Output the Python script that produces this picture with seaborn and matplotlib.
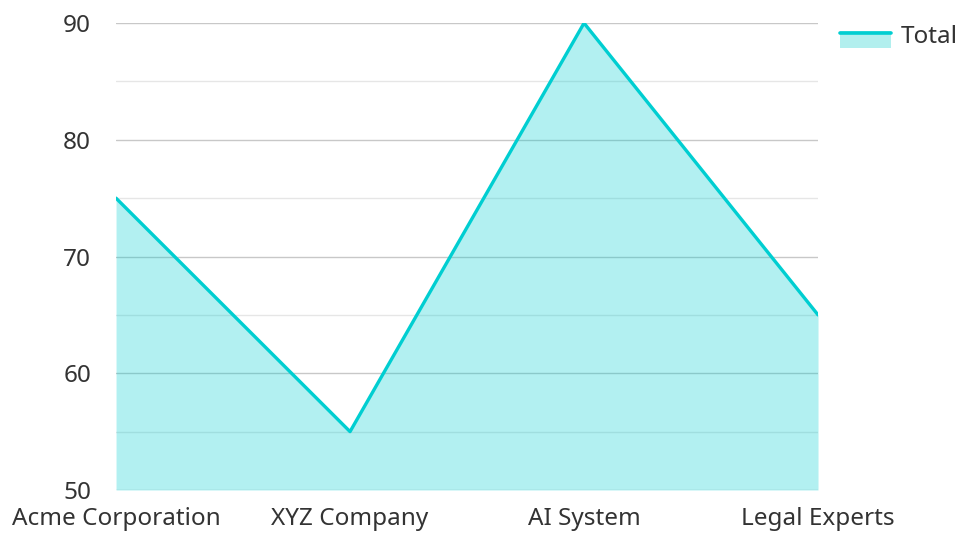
import numpy as np
import pandas as pd
import matplotlib
matplotlib.use("Agg")
import matplotlib.pyplot as plt
import seaborn as sns
from matplotlib.legend_handler import HandlerBase
from matplotlib.patches import Rectangle
from matplotlib.lines import Line2D

# data
categories = ["Acme Corporation", "XYZ Company", "AI System", "Legal Experts"]
totals = [75, 55, 90, 65]
series_name = "Total"

line_color = "#00CED1"
fill_color = "#B2EFEE"
text_color = "#333333"
fsize = 17.5

sns.set_theme(style="white")
plt.rcParams["font.family"] = ["Noto Sans", "DejaVu Sans"]


class LineOnPatch(HandlerBase):
    """legend key: filled box with the line along its top edge"""
    def create_artists(self, legend, orig_handle, xdescent, ydescent,
                       width, height, fontsize, trans):
        x0, y0 = -xdescent, -ydescent - height * 0.3
        h = height * 1.0
        rect = Rectangle((x0, y0), width, h, facecolor=fill_color,
                         edgecolor="none", transform=trans)
        ln = Line2D([x0, x0 + width], [y0 + h - 1.5, y0 + h - 1.5],
                    color=line_color, lw=2.6, transform=trans)
        return [rect, ln]


df = pd.DataFrame({"company": categories, "total": totals})
xpos = np.arange(len(categories))

fig = plt.figure(figsize=(9.59, 5.33), dpi=100)
ax = fig.add_axes([0.121, 0.0807, 0.732, 0.876])

ax.fill_between(xpos, 50, df["total"], color=line_color, alpha=0.3,
                linewidth=0, zorder=2)
sns.lineplot(x=xpos, y=df["total"], ax=ax, color=line_color, lw=2.4,
             zorder=3, legend=False)

ax.set_xlim(0, len(categories) - 1)
ax.set_ylim(50, 90)
ax.set_yticks(np.arange(50, 91, 10))
ax.set_yticks(np.arange(55, 90, 10), minor=True)
ax.set_xticks(xpos)
ax.set_xticklabels(categories)
ax.grid(axis="y", which="major", color="#C8C8C8", lw=1, zorder=0)
ax.grid(axis="y", which="minor", color="#E6E6E6", lw=1, zorder=0)
ax.grid(axis="x", visible=False)
ax.set_axisbelow(True)
for s in ax.spines.values():
    s.set_visible(False)
ax.tick_params(axis="both", which="both", length=0, labelsize=fsize,
               labelcolor=text_color)
ax.tick_params(axis="y", pad=18)
ax.tick_params(axis="x", pad=12)
ax.set_xlabel("")
ax.set_ylabel("")

ax.legend(handles=[Rectangle((0, 0), 1, 1)], labels=[series_name],
          handler_map={Rectangle: LineOnPatch()},
          loc="upper left", bbox_to_anchor=(0.876, 0.953),
          bbox_transform=fig.transFigure, frameon=False, fontsize=fsize,
          handlelength=2.1, handletextpad=0.4, borderpad=0, borderaxespad=0,
          labelcolor=text_color)

fig.savefig("out.png", dpi=100)
